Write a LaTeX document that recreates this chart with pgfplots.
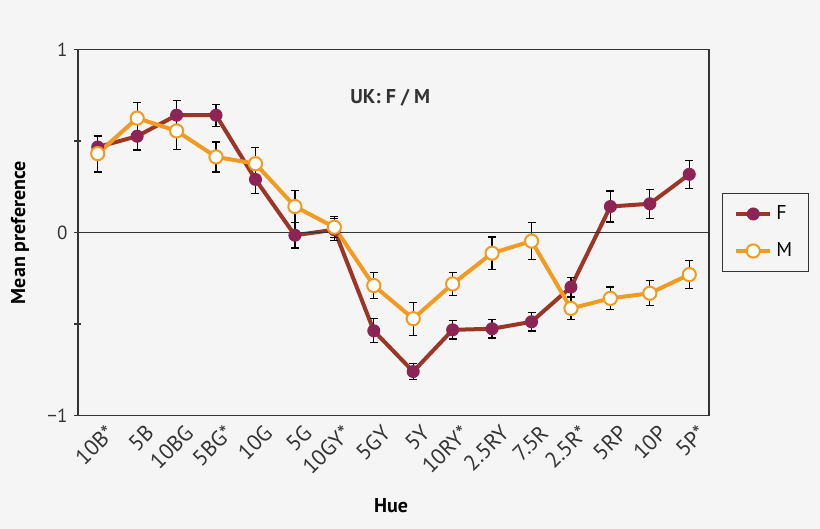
\documentclass[border=0pt]{standalone}
\usepackage{pgfplots}
\pgfplotsset{compat=1.18}
\usepackage{fontspec}
\setmainfont{PT Sans}
\usetikzlibrary{backgrounds}

\definecolor{bgc}{HTML}{F5F5F5}
\definecolor{fline}{HTML}{9C3526}
\definecolor{fmark}{HTML}{8E2456}
\definecolor{mline}{HTML}{F39A21}
\definecolor{axc}{HTML}{333333}

\begin{document}
\begin{tikzpicture}
  \begin{axis}[
    scale only axis,
    width=315.5pt,
    height=183pt,
    xmin=-0.5, xmax=15.5,
    ymin=-1, ymax=1,
    axis line style={axc, line width=0.75pt},
    %
    xtick={0,...,15},
    xticklabels={10B*,5B,10BG,5BG*,10G,5G,10GY*,5GY,5Y,10RY*,2.5RY,7.5R,2.5R*,5RP,10P,5P*},
    x tick label style={rotate=45, anchor=north east, inner sep=1pt, yshift=-3pt, xshift=2pt,
      font=\fontsize{11}{13}\selectfont},
    major x tick style={draw=none},
    %
    ytick={-1,-0.5,0,0.5,1},
    yticklabels={−1,,0,,1},
    ytick pos=left,
    tick align=center,
    major tick length=3.5pt,
    y tick style={axc, line width=0.75pt},
    y tick label style={font=\fontsize{9.5}{11}\selectfont},
    ticklabel style={text=axc},
    %
    xlabel={\bfseries Hue},
    xlabel style={at={(axis description cs:0.496,-0.245)}, anchor=center, font=\fontsize{10}{12}\selectfont},
    ylabel={\bfseries Mean preference},
    ylabel style={at={(axis description cs:-0.092,0.5)}, anchor=center, font=\fontsize{10}{12}\selectfont},
    %
    legend style={at={(1.02,0.5)}, anchor=west, draw=axc, line width=0.6pt,
      fill=none, font=\fontsize{10}{12}\selectfont, row sep=6pt,
      inner xsep=6pt, inner ysep=4pt},
    legend cell align=left,
    %
    error bars/y dir=both,
    error bars/y explicit,
    error bars/error bar style={black, line width=0.6pt},
    error bars/error mark options={rotate=90, mark size=2pt, black, line width=0.6pt},
  ]

    \addplot[fline, line width=2pt, mark=*, mark size=3pt,
      mark options={fill=fmark, draw=fmark, line width=0.5pt}]
      coordinates {
      (0,0.467) +- (0,0.06)
      (1,0.526) +- (0,0.075)
      (2,0.641) +- (0,0.08)
      (3,0.641) +- (0,0.06)
      (4,0.290) +- (0,0.075)
      (5,-0.015) +- (0,0.07)
      (6,0.015) +- (0,0.06)
      (7,-0.537) +- (0,0.065)
      (8,-0.760) +- (0,0.045)
      (9,-0.532) +- (0,0.05)
      (10,-0.526) +- (0,0.05)
      (11,-0.488) +- (0,0.05)
      (12,-0.298) +- (0,0.05)
      (13,0.142) +- (0,0.085)
      (14,0.157) +- (0,0.08)
      (15,0.318) +- (0,0.077)
    };
    \addlegendentry{F}

    \addplot[mline, line width=2pt, mark=*, mark size=3.3pt,
      mark options={fill=white, draw=mline, line width=1pt}]
      coordinates {
      (0,0.431) +- (0,0.1)
      (1,0.625) +- (0,0.086)
      (2,0.555) +- (0,0.1)
      (3,0.413) +- (0,0.082)
      (4,0.376) +- (0,0.09)
      (5,0.142) +- (0,0.088)
      (6,0.029) +- (0,0.058)
      (7,-0.290) +- (0,0.07)
      (8,-0.471) +- (0,0.09)
      (9,-0.281) +- (0,0.064)
      (10,-0.113) +- (0,0.088)
      (11,-0.047) +- (0,0.1)
      (12,-0.415) +- (0,0.06)
      (13,-0.360) +- (0,0.062)
      (14,-0.332) +- (0,0.068)
      (15,-0.230) +- (0,0.078)
    };
    \addlegendentry{M}

    \draw[axc, line width=0.75pt] (axis cs:-0.5,0) -- (axis cs:15.5,0);
    \node[font=\bfseries\fontsize{10}{12}\selectfont, text=axc] at (axis cs:7.42,0.734) {UK: F / M};
  \end{axis}
  \begin{scope}[on background layer]
    \fill[bgc] ([shift={(-39pt,-56.75pt)}]current axis.south west) rectangle
      ([shift={(371pt,207.75pt)}]current axis.south west);
  \end{scope}
\end{tikzpicture}
\end{document}
